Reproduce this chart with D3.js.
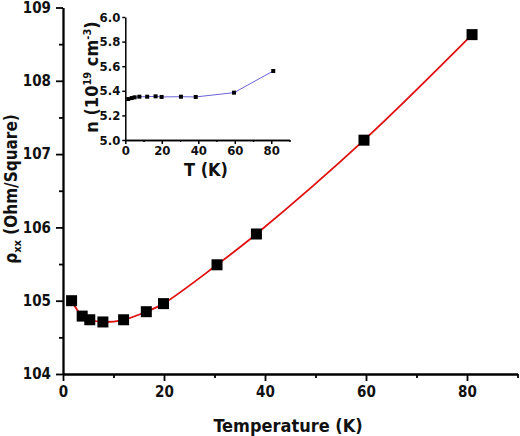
<!DOCTYPE html>
<html lang="en">
<head>
    <meta charset="utf-8">
    <title>Rxx vs temperature</title>
    <script src="https://d3js.org/d3.v7.min.js"></script>
    <style>
        body { margin: 0; background: #fff; }
        text { font-family: "DejaVu Sans Condensed", "DejaVu Sans", sans-serif; font-stretch: condensed; fill: #111; }
    </style>
</head>
<body>
<div id="chart"></div>
<script>
    // main curve: sheet resistance vs temperature
    const tempK = [1.7, 3.8, 5.3, 7.9, 12, 16.5, 19.9, 30.5, 38.3, 59.6, 81];
    const rhoXX = [105.0, 104.79, 104.74, 104.71, 104.74, 104.85, 104.96, 105.49, 105.91, 107.19, 108.63];

    // inset: carrier density
    const insetT = [1.6, 3.5, 5.1, 7.7, 12, 16.6, 19.9, 30.5, 38.6, 59.6, 81.1];
    const insetN = [5.333, 5.341, 5.347, 5.352, 5.352, 5.355, 5.35, 5.352, 5.35, 5.385, 5.561];

    const xTicks = [0, 20, 40, 60, 80];
    const yTicks = [104, 105, 106, 107, 108, 109];
    const insetYTicks = [5.0, 5.2, 5.4, 5.6, 5.8, 6.0];

    const W = 520, H = 436;
    const tickFont = "'DejaVu Sans Condensed', 'DejaVu Sans', sans-serif";

    const svg = d3.select("#chart")
        .append("svg")
        .attr("width", W)
        .attr("height", H);

    // main scales
    const x = d3.scaleLinear().domain([0, 90]).range([63, 517.5]);
    const y = d3.scaleLinear().domain([104, 109]).range([374, 7.5]);

    const styleAxis = (g, w) => {
        g.select(".domain").attr("stroke", "#000").attr("stroke-width", w);
        g.selectAll(".tick line").attr("stroke", "#000").attr("stroke-width", w);
    };
    const styleLabels = (g, size) => g.selectAll(".tick text")
        .attr("font-size", size).attr("font-weight", "bold")
        .style("font-family", tickFont);

    // minor ticks first
    svg.append("g")
        .attr("transform", `translate(0, ${y(104)})`)
        .call(d3.axisBottom(x).tickValues([10, 30, 50, 70, 90]).tickFormat("").tickSize(4).tickSizeOuter(0))
        .call(g => styleAxis(g, 1.8));
    svg.append("g")
        .attr("transform", `translate(${x(0)}, 0)`)
        .call(d3.axisLeft(y).tickValues([104.5, 105.5, 106.5, 107.5, 108.5]).tickFormat("").tickSize(4).tickSizeOuter(0))
        .call(g => styleAxis(g, 1.8));

    // x axis
    svg.append("g")
        .attr("transform", `translate(0, ${y(104)})`)
        .call(d3.axisBottom(x).tickValues(xTicks).tickSize(7).tickSizeOuter(0).tickPadding(5))
        .call(g => styleAxis(g, 1.8))
        .call(g => styleLabels(g, 15));

    // y axis
    svg.append("g")
        .attr("transform", `translate(${x(0)}, 0)`)
        .call(d3.axisLeft(y).tickValues(yTicks).tickFormat(d3.format("d")).tickSize(7).tickSizeOuter(0).tickPadding(5))
        .call(g => styleAxis(g, 1.8))
        .call(g => styleLabels(g, 15));

    // axis titles
    svg.append("text")
        .attr("x", 288).attr("y", 432)
        .attr("text-anchor", "middle")
        .attr("font-size", 18).attr("font-weight", "bold")
        .text("Temperature (K)");

    const yTitle = svg.append("text")
        .attr("transform", "translate(17, 189) rotate(-90)")
        .attr("text-anchor", "middle")
        .attr("font-size", 17).attr("font-weight", "bold");
    yTitle.append("tspan").text("ρ");
    yTitle.append("tspan").attr("font-size", 11).attr("dy", 4).text("xx");
    yTitle.append("tspan").attr("dy", -4).text(" (Ohm/Square)");

    // red curve
    const pts = tempK.map((t, i) => [t, rhoXX[i]]);
    svg.append("path")
        .datum(pts)
        .attr("fill", "none")
        .attr("stroke", "#e01010")
        .attr("stroke-width", 1.8)
        .attr("d", d3.line().x(d => x(d[0])).y(d => y(d[1])).curve(d3.curveCatmullRom.alpha(0.5)));

    const sq = 11;
    svg.append("g")
        .selectAll("rect")
        .data(pts)
        .join("rect")
        .attr("x", d => x(d[0]) - sq / 2)
        .attr("y", d => y(d[1]) - sq / 2)
        .attr("width", sq)
        .attr("height", sq)
        .attr("fill", "#000");

    // ---- inset ----
    const ix = d3.scaleLinear().domain([0, 90]).range([125.3, 289.5]);
    const iy = d3.scaleLinear().domain([5.0, 6.0]).range([140, 17]);

    svg.append("g")
        .attr("transform", `translate(0, ${iy(5.0)})`)
        .call(d3.axisBottom(ix).tickValues([10, 30, 50, 70, 90]).tickFormat("").tickSize(2).tickSizeOuter(0))
        .call(g => styleAxis(g, 1.5));
    svg.append("g")
        .attr("transform", `translate(0, ${iy(5.0)})`)
        .call(d3.axisBottom(ix).tickValues(xTicks).tickSize(4).tickSizeOuter(0).tickPadding(2))
        .call(g => styleAxis(g, 1.5))
        .call(g => styleLabels(g, 13));
    svg.append("g")
        .attr("transform", `translate(${ix(0)}, 0)`)
        .call(d3.axisLeft(iy).tickValues(insetYTicks).tickFormat(d3.format(".1f")).tickSize(3).tickSizeOuter(0).tickPadding(2))
        .call(g => styleAxis(g, 1.5))
        .call(g => styleLabels(g, 13));

    svg.append("text")
        .attr("x", 206).attr("y", 176)
        .attr("text-anchor", "middle")
        .attr("font-size", 18).attr("font-weight", "bold")
        .text("T (K)");

    const iyTitle = svg.append("text")
        .attr("transform", "translate(98, 77) rotate(-90)")
        .attr("text-anchor", "middle")
        .attr("font-size", 18).attr("font-weight", "bold");
    iyTitle.append("tspan").text("n (10");
    iyTitle.append("tspan").attr("font-size", 11).attr("dy", -7).text("19");
    iyTitle.append("tspan").attr("dy", 7).text(" cm");
    iyTitle.append("tspan").attr("font-size", 11).attr("dy", -7).text("-3");
    iyTitle.append("tspan").attr("dy", 7).text(")");

    const ipts = insetT.map((t, i) => [t, insetN[i]]);
    svg.append("path")
        .datum(ipts)
        .attr("fill", "none")
        .attr("stroke", "#6b63d6")
        .attr("stroke-width", 1)
        .attr("d", d3.line().x(d => ix(d[0])).y(d => iy(d[1])));

    const isq = 4;
    svg.append("g")
        .selectAll("rect")
        .data(ipts)
        .join("rect")
        .attr("x", d => ix(d[0]) - isq / 2)
        .attr("y", d => iy(d[1]) - isq / 2)
        .attr("width", isq)
        .attr("height", isq)
        .attr("fill", "#000");
</script>
</body>
</html>
